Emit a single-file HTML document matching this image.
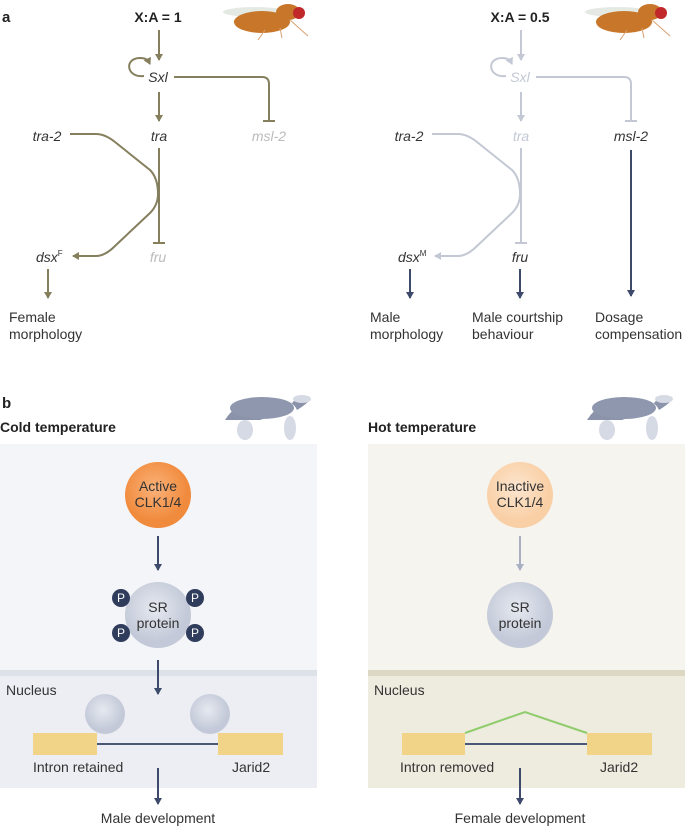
<!DOCTYPE html>
<html><head><meta charset="utf-8"><style>
body{margin:0;background:#fff}
svg{display:block;font-family:"Liberation Sans",sans-serif}
</style></head><body>
<svg width="685" height="826" viewBox="0 0 685 826" xmlns="http://www.w3.org/2000/svg">
<defs>
<marker id="ao" markerWidth="8" markerHeight="8" refX="6" refY="4" orient="auto" markerUnits="userSpaceOnUse"><path d="M0,0 L7,4 L0,8 Z" fill="#857f5e"/></marker>
<marker id="ag" markerWidth="8" markerHeight="8" refX="6" refY="4" orient="auto" markerUnits="userSpaceOnUse"><path d="M0,0 L7,4 L0,8 Z" fill="#c3c8d4"/></marker>
<marker id="ab" markerWidth="8" markerHeight="8" refX="6" refY="4" orient="auto" markerUnits="userSpaceOnUse"><path d="M0,0 L7,4 L0,8 Z" fill="#3d4a6b"/></marker>
<marker id="al" markerWidth="8" markerHeight="8" refX="6" refY="4" orient="auto" markerUnits="userSpaceOnUse"><path d="M0,0 L7,4 L0,8 Z" fill="#a9b0c3"/></marker>
<radialGradient id="og" cx="45%" cy="40%"><stop offset="0" stop-color="#fbb27a"/><stop offset="1" stop-color="#f08a3c"/></radialGradient>
<radialGradient id="ol" cx="45%" cy="40%"><stop offset="0" stop-color="#fde6cf"/><stop offset="1" stop-color="#f9cfa5"/></radialGradient>
<radialGradient id="sg" cx="45%" cy="40%"><stop offset="0" stop-color="#e6e9f0"/><stop offset="1" stop-color="#c3c9d8"/></radialGradient>
</defs>

<!-- Panel a left -->
<text x="2" y="22" font-size="15" font-weight="bold" fill="#222">a</text>
<text x="158" y="22" font-size="14" font-weight="bold" fill="#222" text-anchor="middle">X:A = 1</text>
<g fill="none" stroke="#857f5e" stroke-width="2">
<line x1="159" y1="30" x2="159" y2="60" marker-end="url(#ao)"/>
<path d="M144,76 C126,78 124,58 140,58 C146,58 148,60 150,64" marker-end="url(#ao)"/>
<path d="M174,77 H262 Q269,77 269,84 V121"/><line x1="263" y1="121" x2="275" y2="121"/>
<line x1="159" y1="92" x2="159" y2="121" marker-end="url(#ao)"/>
<line x1="159" y1="148" x2="159" y2="243"/><line x1="153" y1="243" x2="165" y2="243"/>
<path d="M70,134 H96 Q105,134 115,142 L150,170 Q158,178 158,194 Q158,205 150,213 L115,246 Q105,256 96,256 H73" marker-end="url(#ao)"/>
<line x1="48" y1="269" x2="48" y2="298" marker-end="url(#ao)"/>
</g>
<text x="158" y="82" font-size="14" font-style="italic" fill="#333" text-anchor="middle">Sxl</text>
<text x="159" y="141" font-size="14" font-style="italic" fill="#333" text-anchor="middle">tra</text>
<text x="269" y="141" font-size="14" font-style="italic" fill="#bbb" text-anchor="middle">msl-2</text>
<text x="47" y="141" font-size="14" font-style="italic" fill="#333" text-anchor="middle">tra-2</text>
<text x="158" y="262" font-size="14" font-style="italic" fill="#bbb" text-anchor="middle">fru</text>
<text x="36" y="262" font-size="14" font-style="italic" fill="#333">dsx<tspan font-size="8" dy="-6" font-style="normal">F</tspan></text>
<text x="9" y="322" font-size="14" fill="#333">Female</text>
<text x="9" y="339" font-size="14" fill="#333">morphology</text>

<!-- Panel a right -->
<text x="520" y="22" font-size="14" font-weight="bold" fill="#222" text-anchor="middle">X:A = 0.5</text>
<g fill="none" stroke="#c3c8d4" stroke-width="2">
<line x1="521" y1="30" x2="521" y2="60" marker-end="url(#ag)"/>
<path d="M506,76 C488,78 486,58 502,58 C508,58 510,60 512,64" marker-end="url(#ag)"/>
<path d="M536,77 H624 Q631,77 631,84 V121"/><line x1="625" y1="121" x2="637" y2="121"/>
<line x1="521" y1="92" x2="521" y2="121" marker-end="url(#ag)"/>
<line x1="521" y1="148" x2="521" y2="243"/><line x1="515" y1="243" x2="527" y2="243"/>
<path d="M432,134 H458 Q467,134 477,142 L512,170 Q520,178 520,194 Q520,205 512,213 L477,246 Q467,256 458,256 H435" marker-end="url(#ag)"/>
</g>
<g fill="none" stroke="#3d4a6b" stroke-width="2">
<line x1="631" y1="150" x2="631" y2="296" marker-end="url(#ab)"/>
<line x1="410" y1="269" x2="410" y2="298" marker-end="url(#ab)"/>
<line x1="520" y1="269" x2="520" y2="298" marker-end="url(#ab)"/>
</g>
<text x="520" y="82" font-size="14" font-style="italic" fill="#c3c8d4" text-anchor="middle">Sxl</text>
<text x="521" y="141" font-size="14" font-style="italic" fill="#c3c8d4" text-anchor="middle">tra</text>
<text x="631" y="141" font-size="14" font-style="italic" fill="#333" text-anchor="middle">msl-2</text>
<text x="409" y="141" font-size="14" font-style="italic" fill="#333" text-anchor="middle">tra-2</text>
<text x="520" y="262" font-size="14" font-style="italic" fill="#333" text-anchor="middle">fru</text>
<text x="398" y="262" font-size="14" font-style="italic" fill="#333">dsx<tspan font-size="8" dy="-6" font-style="normal">M</tspan></text>
<text x="370" y="322" font-size="14" fill="#333">Male</text>
<text x="370" y="339" font-size="14" fill="#333">morphology</text>
<text x="472" y="322" font-size="14" fill="#333">Male courtship</text>
<text x="472" y="339" font-size="14" fill="#333">behaviour</text>
<text x="595" y="322" font-size="14" fill="#333">Dosage</text>
<text x="595" y="339" font-size="14" fill="#333">compensation</text>

<!-- flies -->
<g id="fly">
<ellipse cx="255" cy="12" rx="32" ry="5" fill="#dde3dc" opacity="0.8"/>
<ellipse cx="262" cy="22" rx="28" ry="11" fill="#c8772a"/>
<ellipse cx="288" cy="12" rx="12" ry="8" fill="#c8772a"/>
<circle cx="299" cy="13" r="6" fill="#c0282a"/>
<g stroke="#d8a070" stroke-width="1"><line x1="265" y1="30" x2="258" y2="40"/><line x1="280" y1="28" x2="282" y2="38"/><line x1="290" y1="20" x2="308" y2="36"/></g>
</g>
<use href="#fly" x="362"/>

<!-- Panel b -->
<text x="2" y="408" font-size="15" font-weight="bold" fill="#222">b</text>
<text x="0" y="432" font-size="14" font-weight="bold" fill="#222">Cold temperature</text>
<text x="368" y="432" font-size="14" font-weight="bold" fill="#222">Hot temperature</text>
<g id="turtle">
<path d="M225,420 Q240,396 275,398 Q293,400 297,410 Q310,402 310,398 Q300,392 293,402 Q285,412 260,420 Z" fill="#8a93aa"/>
<ellipse cx="262" cy="408" rx="32" ry="11" fill="#8e97ad"/>
<ellipse cx="245" cy="430" rx="8" ry="10" fill="#d5dae4"/>
<ellipse cx="290" cy="428" rx="6" ry="12" fill="#d5dae4"/>
<ellipse cx="302" cy="399" rx="9" ry="4" fill="#d5dae4"/>
</g>
<use href="#turtle" x="362"/>

<rect x="0" y="444" width="317" height="226" fill="#f4f5f8"/>
<rect x="0" y="670" width="317" height="6" fill="#dde1e8"/>
<rect x="0" y="676" width="317" height="112" fill="#eceef3"/>
<rect x="368" y="444" width="317" height="226" fill="#f6f4ef"/>
<rect x="368" y="670" width="317" height="6" fill="#ddd8c3"/>
<rect x="368" y="676" width="317" height="112" fill="#eeebdf"/>

<circle cx="158" cy="495" r="33" fill="url(#og)"/>
<text x="158" y="491" font-size="14" fill="#333" text-anchor="middle">Active</text>
<text x="158" y="507" font-size="14" fill="#333" text-anchor="middle">CLK1/4</text>
<line x1="158" y1="536" x2="158" y2="570" stroke="#3d4a6b" stroke-width="2" marker-end="url(#ab)"/>
<circle cx="158" cy="615" r="33" fill="url(#sg)"/>
<text x="158" y="612" font-size="14" fill="#333" text-anchor="middle">SR</text>
<text x="158" y="628" font-size="14" fill="#333" text-anchor="middle">protein</text>
<g fill="#2f3c5c"><circle cx="121" cy="598" r="9"/><circle cx="195" cy="598" r="9"/><circle cx="121" cy="633" r="9"/><circle cx="195" cy="633" r="9"/></g>
<g fill="#fff" font-size="12" text-anchor="middle"><text x="121" y="602">P</text><text x="195" y="602">P</text><text x="121" y="637">P</text><text x="195" y="637">P</text></g>
<line x1="158" y1="660" x2="158" y2="694" stroke="#3d4a6b" stroke-width="2" marker-end="url(#ab)"/>
<text x="6" y="695" font-size="14" fill="#333">Nucleus</text>
<circle cx="105" cy="714" r="20" fill="url(#sg)"/>
<circle cx="210" cy="714" r="20" fill="url(#sg)"/>
<line x1="97" y1="744" x2="218" y2="744" stroke="#4a5878" stroke-width="2"/>
<rect x="33" y="733" width="64" height="22" fill="#f2d488"/>
<rect x="218" y="733" width="65" height="22" fill="#f2d488"/>
<text x="33" y="772" font-size="14" fill="#333">Intron retained</text>
<text x="232" y="772" font-size="14" fill="#333">Jarid2</text>
<line x1="158" y1="768" x2="158" y2="804" stroke="#3d4a6b" stroke-width="2" marker-end="url(#ab)"/>
<text x="158" y="823" font-size="14" fill="#333" text-anchor="middle">Male development</text>

<circle cx="520" cy="495" r="33" fill="url(#ol)"/>
<text x="520" y="491" font-size="14" fill="#333" text-anchor="middle">Inactive</text>
<text x="520" y="507" font-size="14" fill="#333" text-anchor="middle">CLK1/4</text>
<line x1="520" y1="536" x2="520" y2="570" stroke="#a9b0c3" stroke-width="2" marker-end="url(#al)"/>
<circle cx="520" cy="615" r="33" fill="url(#sg)"/>
<text x="520" y="612" font-size="14" fill="#333" text-anchor="middle">SR</text>
<text x="520" y="628" font-size="14" fill="#333" text-anchor="middle">protein</text>
<text x="374" y="695" font-size="14" fill="#333">Nucleus</text>
<polyline points="465,733 525,712 587,733" fill="none" stroke="#8fcc6c" stroke-width="2"/>
<line x1="465" y1="744" x2="587" y2="744" stroke="#4a5878" stroke-width="2"/>
<rect x="402" y="733" width="63" height="22" fill="#f2d488"/>
<rect x="587" y="733" width="65" height="22" fill="#f2d488"/>
<text x="400" y="772" font-size="14" fill="#333">Intron removed</text>
<text x="600" y="772" font-size="14" fill="#333">Jarid2</text>
<line x1="520" y1="768" x2="520" y2="804" stroke="#3d4a6b" stroke-width="2" marker-end="url(#ab)"/>
<text x="520" y="823" font-size="14" fill="#333" text-anchor="middle">Female development</text>
</svg>
</body></html>
